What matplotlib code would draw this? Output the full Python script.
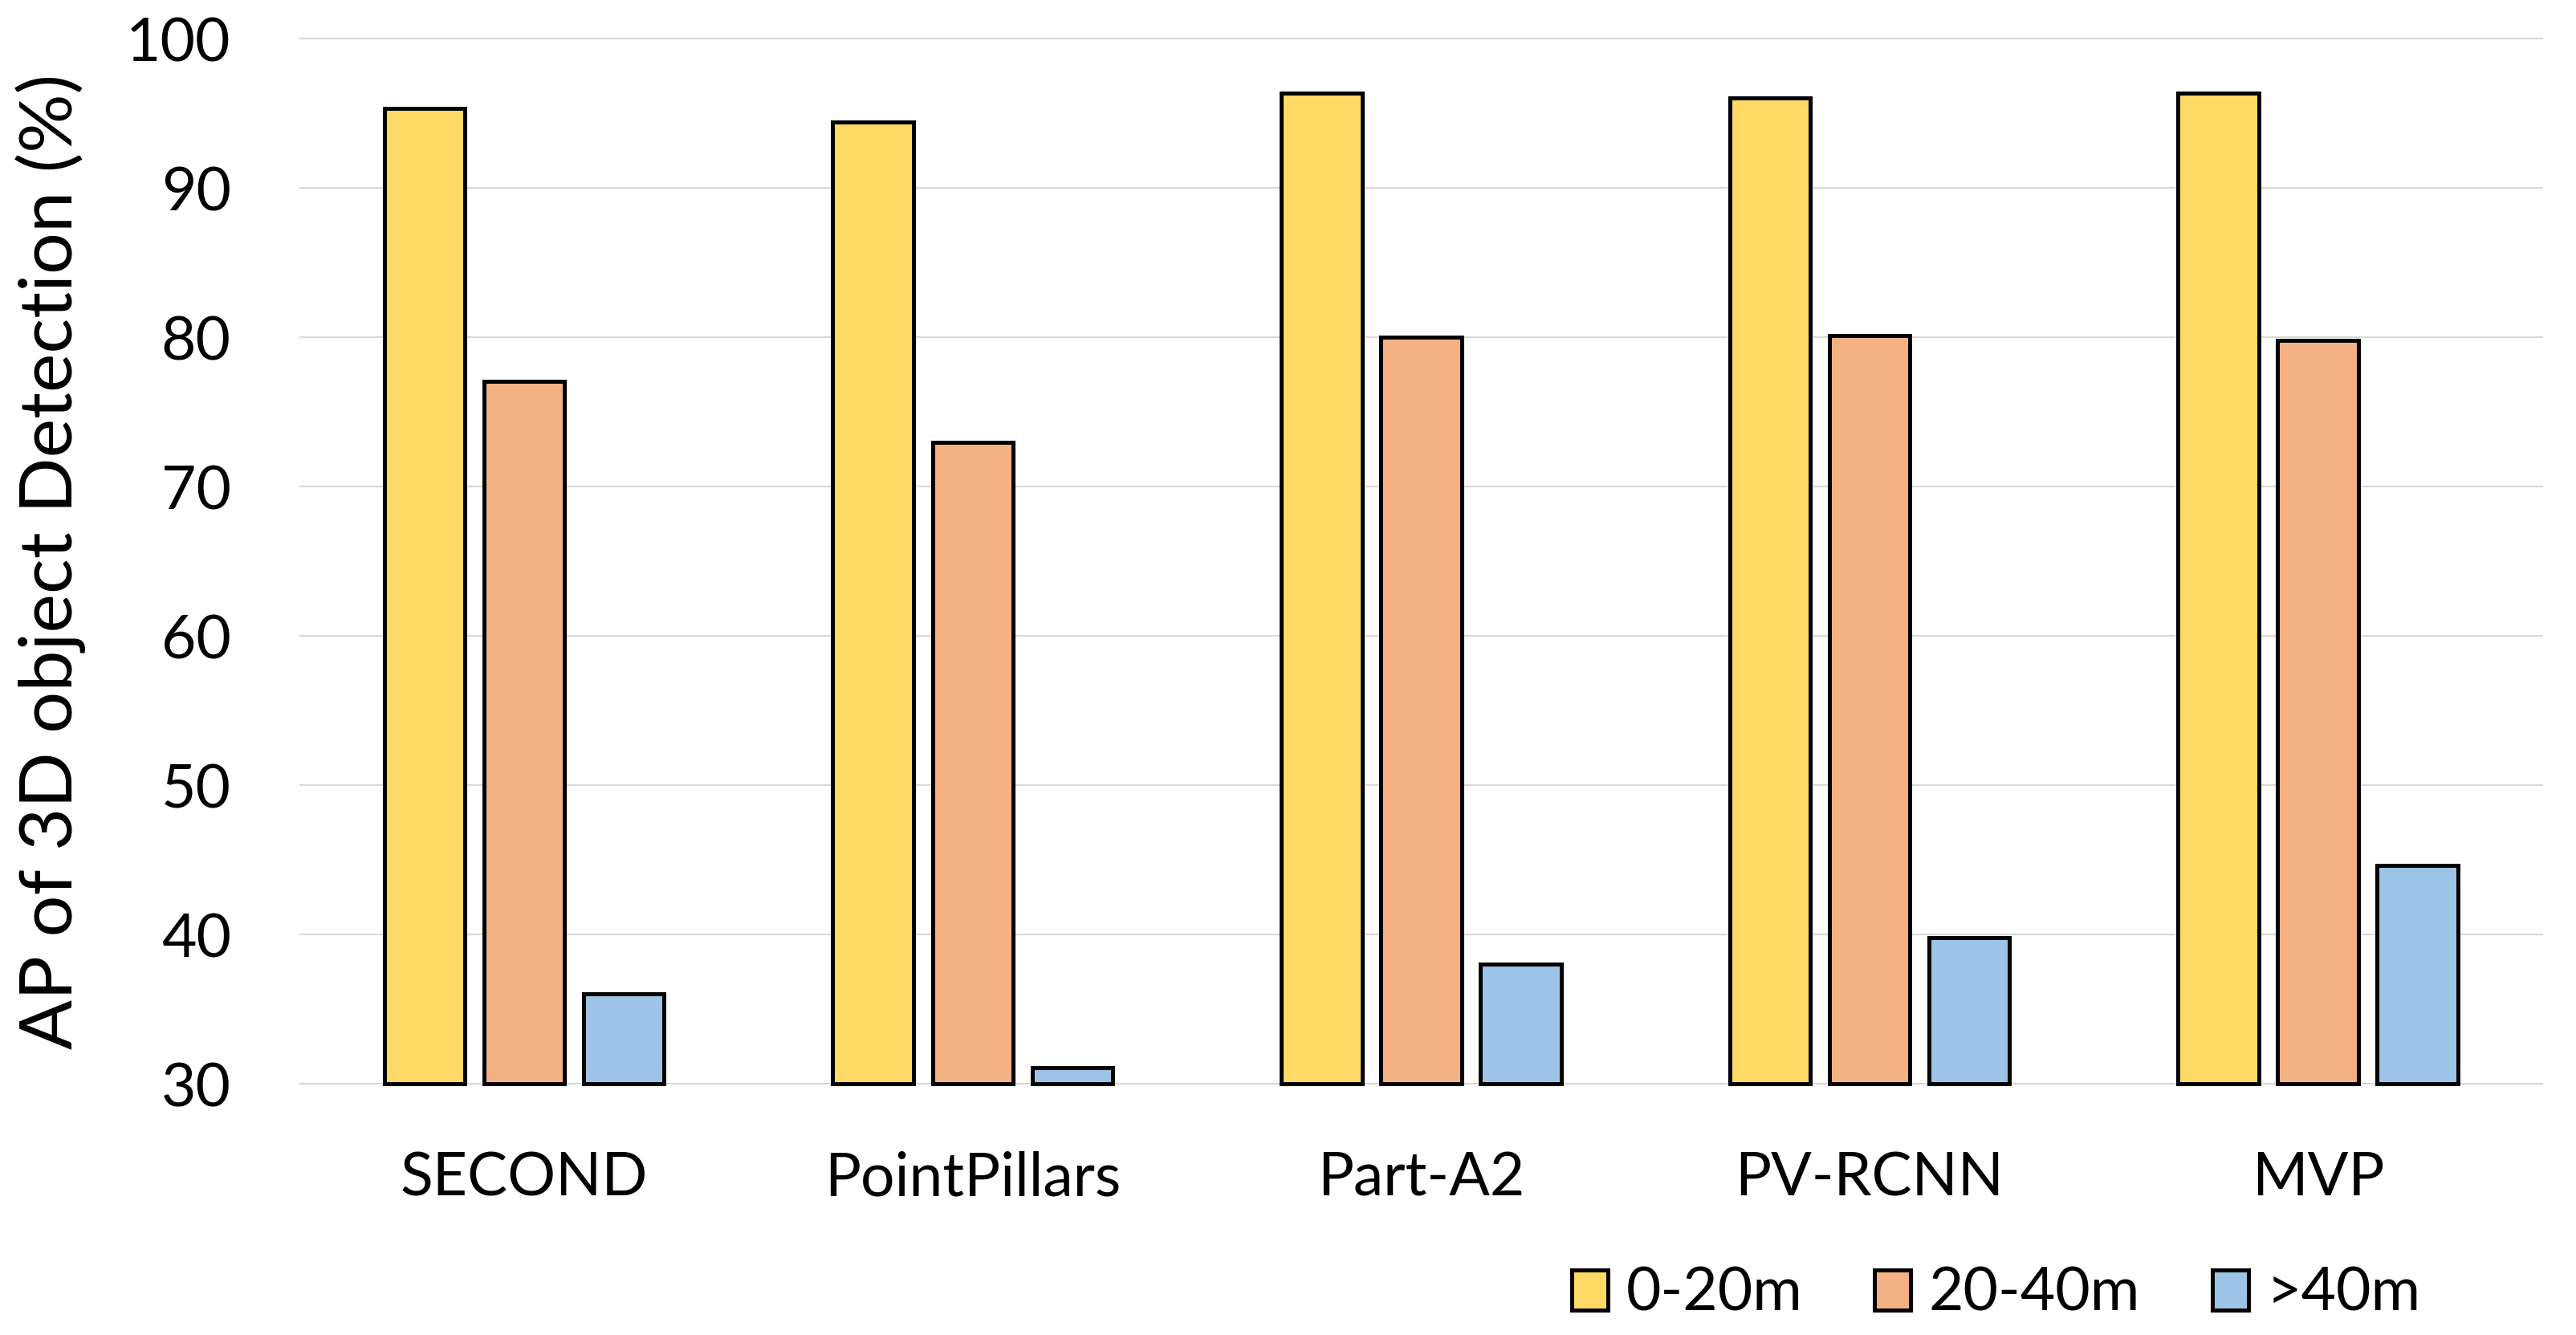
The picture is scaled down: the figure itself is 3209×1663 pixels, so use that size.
import matplotlib
matplotlib.use("Agg")
import matplotlib.pyplot as plt
import numpy as np

categories = ["SECOND", "PointPillars", "Part-A2", "PV-RCNN", "MVP"]
series_names = ["0-20m", "20-40m", ">40m"]
ap_0_20 = [95.3, 94.4, 96.35, 96.05, 96.35]
ap_20_40 = [77.05, 72.95, 80.0, 80.1, 79.8]
ap_40_plus = [36.0, 31.1, 38.0, 39.8, 44.6]
y_ticks = [30, 40, 50, 60, 70, 80, 90, 100]
y_label = "AP of 3D object Detection (%)"

colors = ["#FFD966", "#F4B183", "#9DC3E6"]

plt.rcParams['font.family'] = ['Lato', 'DejaVu Sans']

fig = plt.figure(figsize=(32.09, 16.63), dpi=100)
ax = fig.add_axes([0.1165, 0.1882, 0.8704, 0.7829])

x = np.arange(len(categories))
width = 0.18
pitch = 0.222
base = 30
for i, (vals, name, c) in enumerate(zip([ap_0_20, ap_20_40, ap_40_plus], series_names, colors)):
    heights = [v - base for v in vals]
    ax.bar(x + (i - 1) * pitch, heights, width, bottom=base, color=c,
           edgecolor="black", linewidth=3.6, label=name, zorder=3, clip_on=False)

ax.set_xlim(-0.5, len(categories) - 0.5)
ax.set_ylim(30, 100)
ax.set_yticks(y_ticks)
ax.set_xticks(x)
ax.set_xticklabels(categories)
ax.tick_params(axis='both', length=0, labelsize=54)
ax.tick_params(axis='y', pad=62)
ax.tick_params(axis='x', pad=60)
ax.yaxis.grid(True, color="#D9D9D9", linewidth=1.6, zorder=0)
for gl in ax.get_ygridlines():
    gl.set_clip_on(False)
ax.set_axisbelow(True)
for s in ax.spines.values():
    s.set_visible(False)

ax.set_ylabel(y_label, fontsize=66)
ax.yaxis.set_label_coords(-0.0955, 0.5)

fig.legend(loc="center", bbox_to_anchor=(0.775, 0.031), ncol=3, frameon=False,
           fontsize=54, handlelength=0.6, handleheight=0.65, handletextpad=0.3,
           columnspacing=1.2)

fig.savefig("out.png", dpi=100)
